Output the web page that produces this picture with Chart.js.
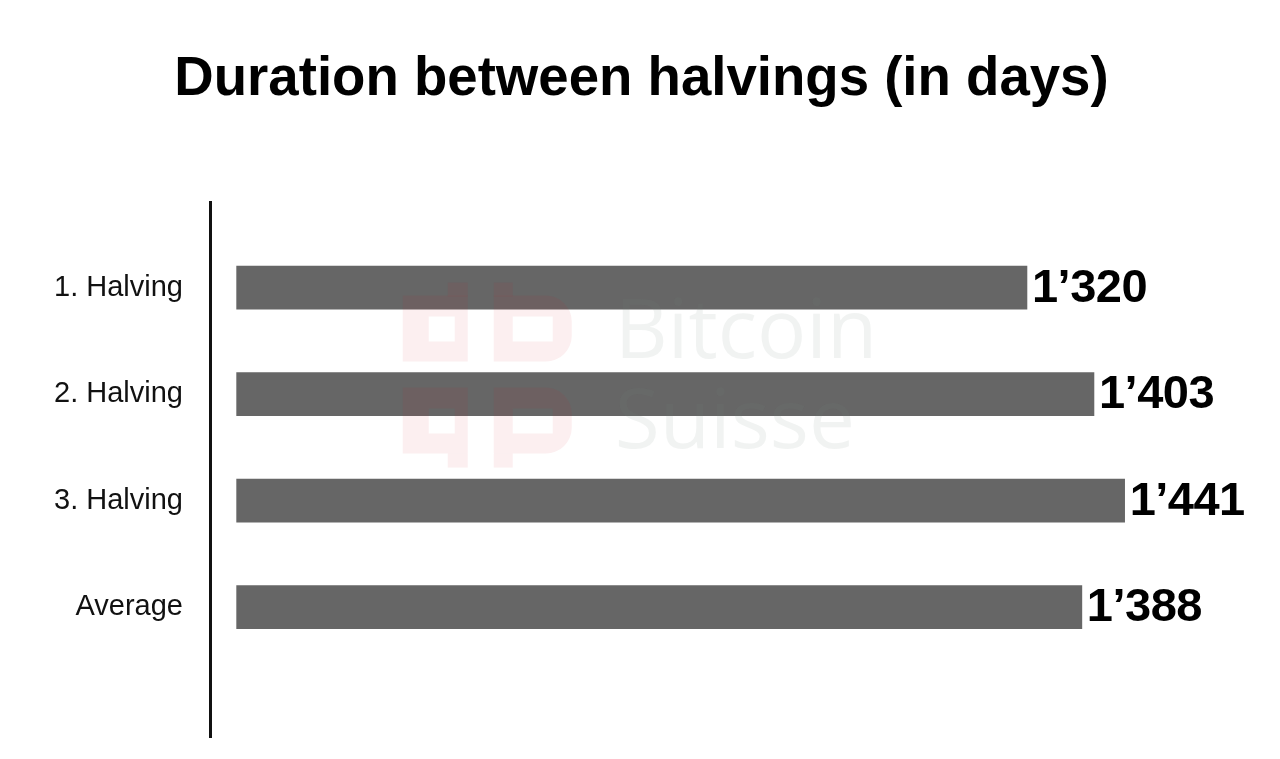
<!DOCTYPE html>
<html>
<head>
<meta charset="utf-8">
<title>Duration between halvings (in days)</title>
<script src="https://cdn.jsdelivr.net/npm/chart.js@4.4.1/dist/chart.umd.min.js"></script>
<style>
  html, body { margin: 0; padding: 0; background: #fff; }
  #wrap { width: 1280px; height: 759px; }
</style>
</head>
<body>
<div id="wrap"><canvas id="halvingChart" width="1280" height="759"></canvas></div>
<script>
const categories = ["1. Halving", "2. Halving", "3. Halving", "Average"];
const durationDays = [1320, 1403, 1441, 1388];
const slots = [1, 2, 3, 4];

function formatDays(v) {
  return String(v).replace(/\B(?=(\d{3})+(?!\d))/g, "\u2019");
}

// value labels at the end of each bar
const valueLabels = {
  id: "valueLabels",
  afterDatasetsDraw(chart) {
    const ctx = chart.ctx;
    const meta = chart.getDatasetMeta(0);
    ctx.save();
    ctx.fillStyle = "#000";
    ctx.font = "bold 47px 'Liberation Sans', Arial, sans-serif";
    ctx.letterSpacing = "-0.5px";
    ctx.textAlign = "left";
    ctx.textBaseline = "middle";
    meta.data.forEach((bar, i) => {
      ctx.fillText(formatDays(durationDays[i]), bar.x + 5, bar.y + 1);
    });
    ctx.restore();
  }
};

// faint watermark over the plot
const watermark = {
  id: "watermark",
  afterDatasetsDraw(chart) {
    const ctx = chart.ctx;
    const cx = chart.chartArea.left + (chart.chartArea.right - chart.chartArea.left) * 0.39;
    const cy = chart.chartArea.top + (chart.chartArea.bottom - chart.chartArea.top) * 0.32;
    ctx.save();
    ctx.fillStyle = "rgba(215, 25, 40, 0.07)";
    // logo: two stacked blocks, stems run out above and below
    [[-99, -78, -13], [-99, 14, 66]].forEach(([dx, dy, sy]) => {
      const x = cx + dx, y = cy + dy;
      ctx.beginPath();
      ctx.rect(x - 115, y, 65, 66);
      ctx.rect(x - 89, y + 21, 26, 25);
      ctx.fill("evenodd");
      ctx.beginPath();
      ctx.moveTo(x - 24, y);
      ctx.lineTo(x + 30, y);
      ctx.arcTo(x + 54, y, x + 54, y + 33, 26);
      ctx.arcTo(x + 54, y + 66, x + 30, y + 66, 26);
      ctx.lineTo(x - 24, y + 66);
      ctx.closePath();
      ctx.rect(x - 5, y + 21, 40, 25);
      ctx.fill("evenodd");
      ctx.fillRect(x - 70, y + sy, 20, 14);
      ctx.fillRect(x - 24, y + sy, 19, 14);
    });
    ctx.fillStyle = "rgba(120, 140, 130, 0.1)";
    ctx.font = "82px 'Open Sans', 'Liberation Sans', sans-serif";
    ctx.textAlign = "left";
    ctx.textBaseline = "alphabetic";
    ctx.fillText("Bitcoin", cx - 2, cy - 16);
    ctx.fillText("Suisse", cx - 2, cy + 74);
    ctx.restore();
  }
};

new Chart(document.getElementById("halvingChart").getContext("2d"), {
  type: "bar",
  data: {
    datasets: [{
      data: durationDays.map((v, i) => ({ x: v, y: slots[i] })),
      backgroundColor: "#666666",
      borderWidth: 0,
      barThickness: 43,
      base: 341
    }]
  },
  options: {
    indexAxis: "y",
    responsive: false,
    animation: false,
    layout: { padding: { left: 30, right: 27, top: 0, bottom: 22 } },
    plugins: {
      legend: { display: false },
      tooltip: { enabled: false },
      title: {
        display: true,
        text: "Duration between halvings (in days)",
        color: "#000",
        font: { family: "'Liberation Sans', Arial, sans-serif", size: 54.6, weight: "bold", lineHeight: 1.2 },
        padding: { top: 47, bottom: 90 }
      }
    },
    scales: {
      x: {
        type: "linear",
        min: 308,
        max: 1600,
        display: false
      },
      y: {
        type: "linear",
        reverse: true,
        offset: false,
        min: 0.2,
        max: 5.22,
        afterFit(scale) {
          scale.width = 180;
          scale.paddingTop = 0;
          scale.paddingBottom = 0;
        },
        afterBuildTicks(scale) { scale.ticks = slots.map(v => ({ value: v })); },
        grid: { display: false, drawTicks: false, offset: false },
        border: { display: true, color: "#111", width: 3 },
        ticks: {
          padding: 27,
          color: "#111",
          font: { family: "'Liberation Sans', Arial, sans-serif", size: 29 },
          callback: (v) => categories[slots.indexOf(v)] || ""
        }
      }
    }
  },
  plugins: [valueLabels, watermark]
});
</script>
</body>
</html>
